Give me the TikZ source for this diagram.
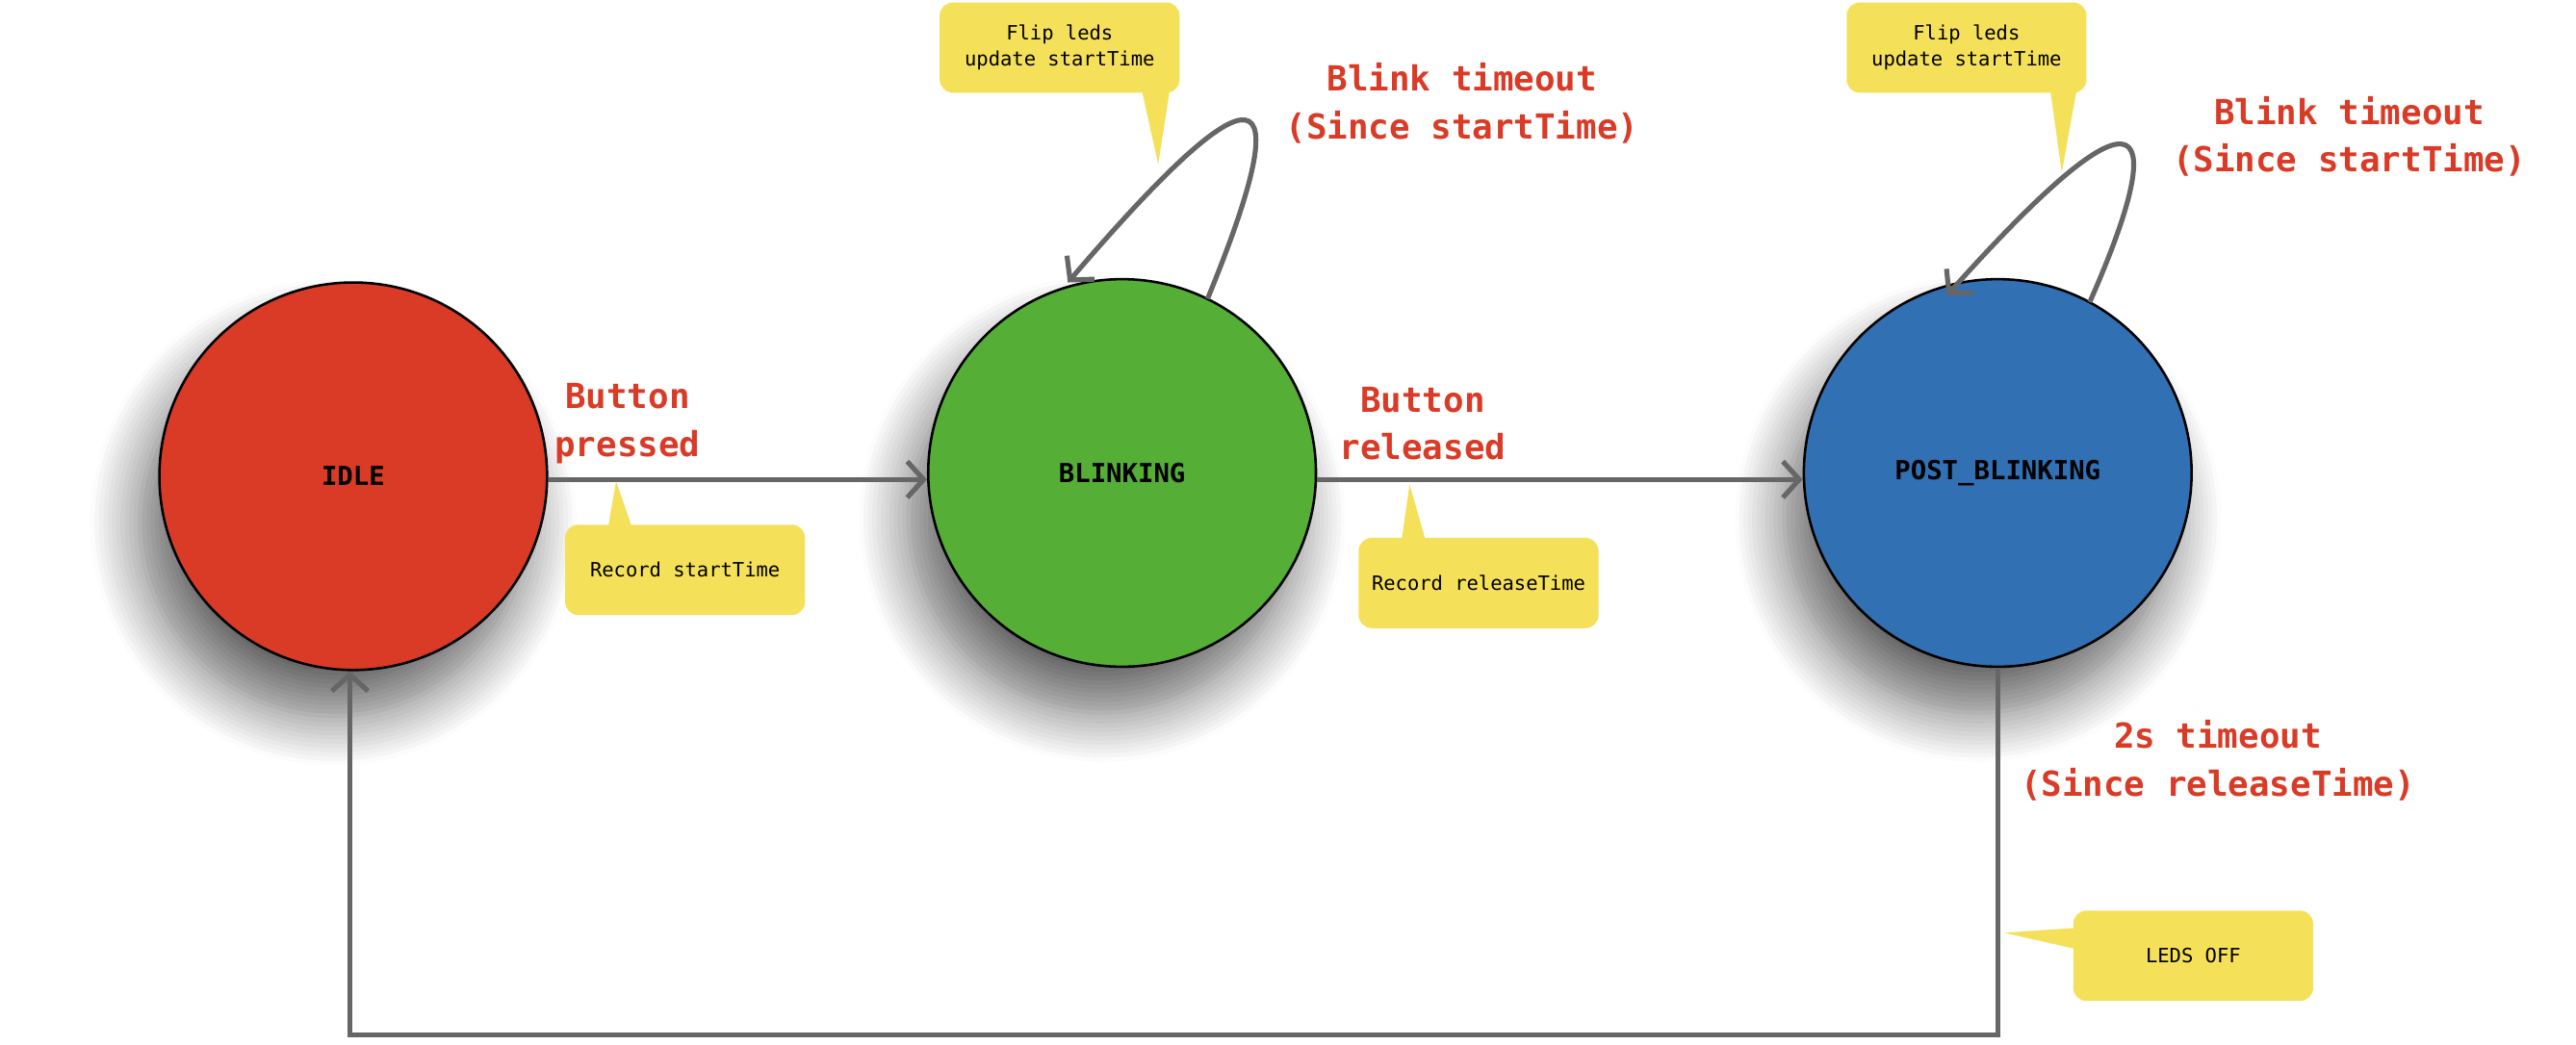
\documentclass[tikz,border=0pt]{standalone}
\usepackage{fontspec}
\setmonofont{DejaVu Sans Mono}
\usetikzlibrary{shadows.blur,arrows.meta}
\definecolor{cred}{HTML}{D93B27}
\definecolor{cgreen}{HTML}{55AE35}
\definecolor{cblue}{HTML}{3070B3}
\definecolor{cyel}{HTML}{F5E05A}
\definecolor{cline}{HTML}{666666}
\definecolor{ctxt}{HTML}{D93B27}
\tikzset{
 state/.style={circle,draw=black,line width=1.5pt,minimum size=236pt,font=\ttfamily\bfseries\fontsize{16}{18}\selectfont,
   blur shadow={shadow xshift=-12pt,shadow yshift=-28pt,shadow blur steps=12,shadow blur radius=30pt,shadow opacity=60}},
 lab/.style={text=ctxt,font=\ttfamily\bfseries\fontsize{21}{29}\selectfont,align=center},
 note/.style={fill=cyel,rounded corners=8pt,font=\ttfamily\fontsize{12}{16}\selectfont,align=center,minimum width=146pt,minimum height=55pt},
 conn/.style={draw=cline,line width=3pt,-{Straight Barb[length=10pt,width=22pt]}},
}
\begin{document}
\begin{tikzpicture}[x=1pt,y=-1pt]
\useasboundingbox (0,0) rectangle (1568,636);
\node[state,fill=cred] (idle) at (215,290) {IDLE};
\node[state,fill=cgreen] (blink) at (683,288) {BLINKING};
\node[state,fill=cblue] (post) at (1216,288) {POST\_BLINKING};
\draw[conn] (idle.east |- 0,292) -- (blink.west |- 0,292);
\draw[conn] (blink.east |- 0,292) -- (post.west |- 0,292);
\coordinate (l1a) at (735,182); \coordinate (l1b) at (650,172);
\draw[conn] (l1a) .. controls (785,60) and (780,20) .. (l1b);
\coordinate (l2a) at (1272,184); \coordinate (l2b) at (1185,180);
\draw[conn] (l2a) .. controls (1320,75) and (1310,40) .. (l2b);
\coordinate (c1) at (1216,630); \coordinate (c2) at (213,630);
\draw[conn] (post.south -| 1216,0) -- (c1) -- (c2) -- (idle.south -| 213,0);
\node[lab] (t1) at (382,258) {Button\\pressed};
\node[lab] (t2) at (866,258) {Button\\released};
\node[lab] (t3) at (890,63) {Blink timeout\\(Since startTime)};
\node[lab] (t4) at (1430,83) {Blink timeout\\(Since startTime)};
\node[lab] (t5) at (1350,463) {2s timeout\\(Since releaseTime)};
\node[note] (n1) at (417,347) {Record startTime};
\fill[cyel] (370,322) -- (375,293) -- (385,322) -- cycle;
\node[note] (n2) at (900,355) {Record releaseTime};
\fill[cyel] (853,330) -- (858,295) -- (868,330) -- cycle;
\node[note] (n3) at (645,29) {Flip leds\\update startTime};
\fill[cyel] (695,55) -- (705,100) -- (712,55) -- cycle;
\node[note] (n4) at (1197,29) {Flip leds\\update startTime};
\fill[cyel] (1248,55) -- (1255,105) -- (1264,55) -- cycle;
\node[note] (n5) at (1335,582) {LEDS OFF};
\fill[cyel] (1264,565) -- (1220,568) -- (1264,578) -- cycle;
\end{tikzpicture}
\end{document}
